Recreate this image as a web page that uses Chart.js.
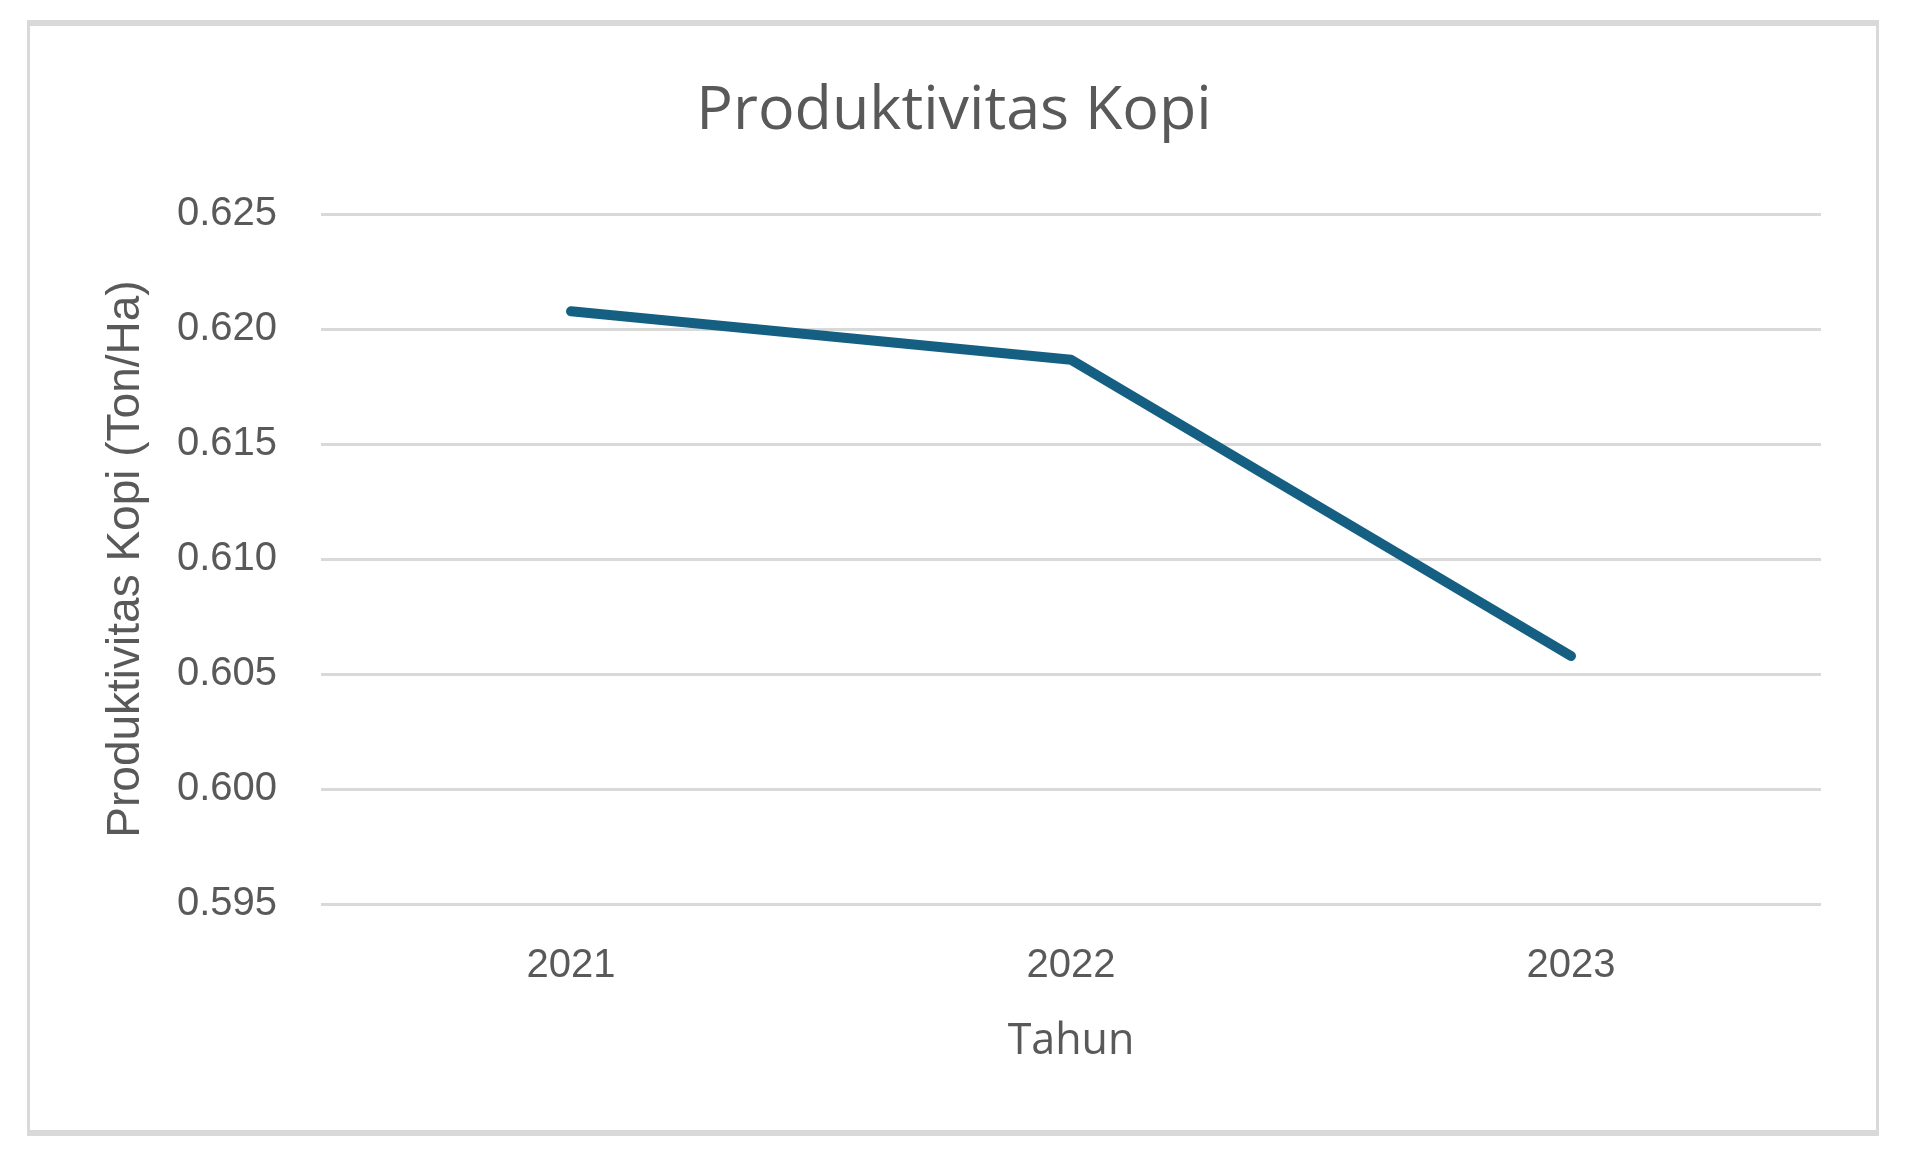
<!DOCTYPE html>
<html lang="id">
<head>
    <meta charset="UTF-8">
    <title>Produktivitas Kopi</title>
    <script src="https://cdn.jsdelivr.net/npm/chart.js@4.4.0/dist/chart.umd.min.js"></script>
    <style>
        body {
            margin: 0;
            background: #ffffff;
            width: 1920px;
            height: 1151px;
            overflow: hidden;
            position: relative;
        }
        .frame {
            position: absolute;
            left: 27px;
            top: 20px;
            width: 1852px;
            height: 1116px;
            box-sizing: border-box;
            border: 3px solid #d9d9d9;
            border-top-width: 6px;
            border-bottom-width: 6px;
        }
        #chart {
            position: absolute;
            left: 0;
            top: 0;
        }
    </style>
</head>
<body>
    <div class="frame"></div>
    <canvas id="chart" width="1908" height="1151"></canvas>

    <script>
        // data
        const years = ['2021', '2022', '2023'];
        const productivity = [0.62077, 0.61866, 0.60578];
        const yTicks = [0.595, 0.600, 0.605, 0.610, 0.615, 0.620, 0.625];

        const grey = '#595959';
        const tickFont = { family: '"Liberation Sans", Arial, sans-serif', size: 40 };

        new Chart(document.getElementById('chart'), {
            type: 'line',
            data: {
                labels: years,
                datasets: [{
                    label: 'Produktivitas Kopi',
                    data: productivity,
                    borderColor: '#156082',
                    borderWidth: 10,
                    borderCapStyle: 'round',
                    borderJoinStyle: 'round',
                    pointRadius: 0,
                    tension: 0,
                    fill: false
                }]
            },
            options: {
                responsive: false,
                animation: false,
                // equal side padding keeps the title centred on the frame
                layout: { padding: { left: 87, right: 87, top: 0, bottom: 0 } },
                plugins: {
                    legend: { display: false },
                    tooltip: { enabled: false },
                    title: {
                        display: true,
                        text: 'Produktivitas Kopi',
                        color: grey,
                        font: { family: '"Open Sans", sans-serif', size: 61, weight: 'normal', lineHeight: 1.2 },
                        padding: { top: 75, bottom: 65.8 }
                    }
                },
                scales: {
                    x: {
                        offset: true,
                        grid: { display: false, drawTicks: false },
                        border: { display: false },
                        ticks: { color: grey, font: tickFont, padding: 38, maxRotation: 0 },
                        title: {
                            display: true,
                            text: 'Tahun',
                            color: grey,
                            font: { family: '"Open Sans", sans-serif', size: 43, lineHeight: 1.2 },
                            padding: { top: 0, bottom: 83 }
                        },
                        afterFit: (scale) => { scale.height = 247; }
                    },
                    y: {
                        min: yTicks[0],
                        max: yTicks[yTicks.length - 1],
                        afterBuildTicks: (scale) => {
                            scale.ticks = yTicks.map(v => ({ value: v }));
                        },
                        grid: { color: '#d9d9d9', lineWidth: 3, drawTicks: false },
                        border: { display: false },
                        ticks: {
                            color: grey,
                            font: tickFont,
                            padding: 44,
                            callback: (v) => Number(v).toFixed(3)
                        },
                        title: {
                            display: true,
                            text: 'Produktivitas Kopi (Ton/Ha)',
                            color: grey,
                            font: { family: '"Liberation Sans", Arial, sans-serif', size: 46, lineHeight: 1.2 },
                            padding: { top: 12, bottom: 0 }
                        },
                        afterFit: (scale) => { scale.width = 234; }
                    }
                }
            }
        });
    </script>
</body>
</html>
